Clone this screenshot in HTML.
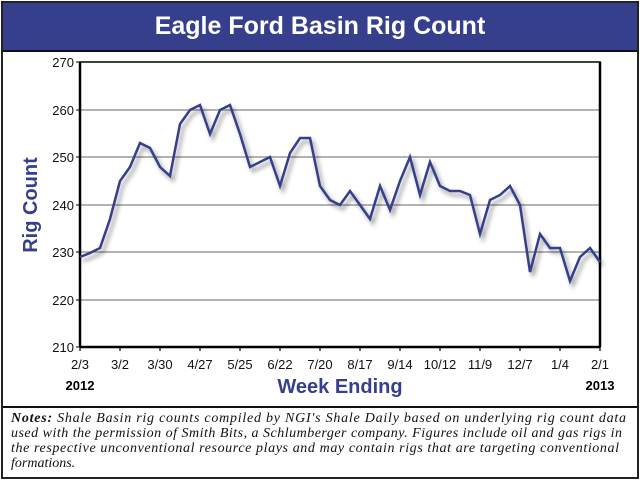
<!DOCTYPE html>
<html><head><style>
body{margin:0;width:640px;height:480px;background:#fff;overflow:hidden}
.wrap{position:absolute;left:1px;top:1px;width:634px;height:474px;border:2px solid #222;}
.title{position:absolute;left:0;top:0;width:634px;height:47px;background:#363f8c;border-bottom:2px solid #111;color:#fff;font:bold 25px "Liberation Sans",sans-serif;text-align:center;line-height:47px}
.notes{position:absolute;left:0;top:403px;width:634px;height:71px;border-top:2px solid #111;}
</style></head><body>
<div class="wrap">
<div class="title">Eagle Ford Basin Rig Count</div>
<div class="notes"></div>
</div>
<svg width="640" height="480" style="position:absolute;left:0;top:0" font-family="Liberation Sans, sans-serif">
<defs><filter id="sh" x="-5%" y="-5%" width="110%" height="120%"><feGaussianBlur stdDeviation="2"/></filter></defs>
<g font-family="Liberation Serif, serif" font-style="italic" font-size="14" fill="#111" lengthAdjust="spacing">
<text x="11" y="422" textLength="615" lengthAdjust="spacing"><tspan font-weight="bold">Notes:</tspan>  Shale Basin rig counts compiled by NGI's Shale Daily based on underlying rig count data</text>
<text x="11" y="437" textLength="611" lengthAdjust="spacing">used with the permission of Smith Bits, a Schlumberger company.  Figures include oil and gas rigs in</text>
<text x="11" y="452" textLength="608" lengthAdjust="spacing">the respective unconventional resource plays and may contain rigs that are targeting conventional</text>
<text x="11" y="467">formations.</text>
</g>
<g stroke="#9a9a9a" stroke-width="1.5">
<line x1="80" x2="600" y1="110" y2="110"/><line x1="80" x2="600" y1="157" y2="157"/><line x1="80" x2="600" y1="205" y2="205"/><line x1="80" x2="600" y1="252" y2="252"/><line x1="80" x2="600" y1="300" y2="300"/>
</g>
<g stroke="#000" stroke-width="1">
<line x1="76" x2="80" y1="62" y2="62"/><line x1="76" x2="80" y1="110" y2="110"/><line x1="76" x2="80" y1="157" y2="157"/><line x1="76" x2="80" y1="205" y2="205"/><line x1="76" x2="80" y1="252" y2="252"/><line x1="76" x2="80" y1="300" y2="300"/><line x1="76" x2="80" y1="347" y2="347"/>
</g>
<g stroke="#000" stroke-width="1.2">
<line x1="80" y1="347" x2="80" y2="351"/><line x1="120" y1="347" x2="120" y2="351"/><line x1="160" y1="347" x2="160" y2="351"/><line x1="200" y1="347" x2="200" y2="351"/><line x1="240" y1="347" x2="240" y2="351"/><line x1="280" y1="347" x2="280" y2="351"/><line x1="320" y1="347" x2="320" y2="351"/><line x1="360" y1="347" x2="360" y2="351"/><line x1="400" y1="347" x2="400" y2="351"/><line x1="440" y1="347" x2="440" y2="351"/><line x1="480" y1="347" x2="480" y2="351"/><line x1="520" y1="347" x2="520" y2="351"/><line x1="560" y1="347" x2="560" y2="351"/><line x1="600" y1="347" x2="600" y2="351"/>
</g>
<rect x="80" y="62" width="520" height="285" fill="none" stroke="#000" stroke-width="1.5"/>
<line x1="80" y1="62" x2="80" y2="347" stroke="#000" stroke-width="2.5"/>
<line x1="80" y1="347" x2="600" y2="347" stroke="#000" stroke-width="2.5"/>
<line x1="600" y1="62" x2="600" y2="347" stroke="#000" stroke-width="2.5"/>
<g font-size="13" fill="#111" text-anchor="end">
<text x="74" y="67">270</text><text x="74" y="115">260</text><text x="74" y="162">250</text><text x="74" y="210">240</text><text x="74" y="257">230</text><text x="74" y="305">220</text><text x="74" y="352">210</text>
</g>
<g font-size="13" fill="#111" text-anchor="middle">
<text x="80" y="369">2/3</text><text x="120" y="369">3/2</text><text x="160" y="369">3/30</text><text x="200" y="369">4/27</text><text x="240" y="369">5/25</text><text x="280" y="369">6/22</text><text x="320" y="369">7/20</text><text x="360" y="369">8/17</text><text x="400" y="369">9/14</text><text x="440" y="369">10/12</text><text x="480" y="369">11/9</text><text x="520" y="369">12/7</text><text x="560" y="369">1/4</text><text x="600" y="369">2/1</text>
</g>
<text x="80" y="390" font-size="13" font-weight="bold" text-anchor="middle">2012</text>
<text x="600" y="390" font-size="13" font-weight="bold" text-anchor="middle">2013</text>
<text x="340" y="393" font-size="20" font-weight="bold" fill="#363f8c" text-anchor="middle">Week Ending</text>
<text transform="translate(37,205) rotate(-90)" font-size="20" font-weight="bold" fill="#363f8c" text-anchor="middle">Rig Count</text>
<g transform="translate(0,5)">
<polyline fill="none" stroke="#000" stroke-opacity="0.35" stroke-width="3" filter="url(#sh)" transform="translate(3,4)" points="80,252 90,248 100,243 110,214 120,176 130,162 140,138 150,143 160,162 170,171 180,119 190,105 200,100 210,129 220,105 230,100 240,129 250,162 260,157 270,152 280,181 290,148 300,133 310,133 320,181 330,195 340,200 350,186 360,200 370,214 380,181 390,205 400,176 410,152 420,190 430,157 440,181 450,186 460,186 470,190 480,229 490,195 500,190 510,181 520,200 530,267 540,229 550,243 560,243 570,276 580,252 590,243 600,257"/>
<polyline fill="none" stroke="#363f8c" stroke-width="2.5" points="80,252 90,248 100,243 110,214 120,176 130,162 140,138 150,143 160,162 170,171 180,119 190,105 200,100 210,129 220,105 230,100 240,129 250,162 260,157 270,152 280,181 290,148 300,133 310,133 320,181 330,195 340,200 350,186 360,200 370,214 380,181 390,205 400,176 410,152 420,190 430,157 440,181 450,186 460,186 470,190 480,229 490,195 500,190 510,181 520,200 530,267 540,229 550,243 560,243 570,276 580,252 590,243 600,257"/>
</g>
</svg>
</body></html>
